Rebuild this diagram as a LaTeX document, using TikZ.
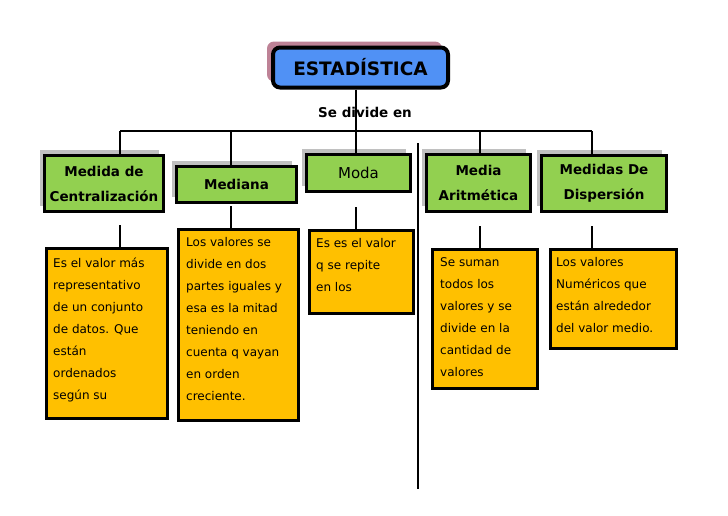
\documentclass[tikz,border=0pt]{standalone}
\usepackage{fontspec}
\setmainfont{DejaVu Sans}
\usetikzlibrary{shadows}

\definecolor{titleblue}{RGB}{80,145,245}
\definecolor{titleshade}{RGB}{190,130,150}
\definecolor{topicgreen}{RGB}{146,208,80}
\definecolor{notegold}{RGB}{255,192,0}
\definecolor{shadegray}{RGB}{192,192,192}

\begin{document}
\begin{tikzpicture}[x=1pt, y=-1pt,
    link/.style={line width=2.2pt},
    topic/.style={draw, line width=3.5pt, fill=topicgreen, align=center, inner sep=0pt,
        font=\bfseries\fontsize{13.5}{25}\selectfont,
        drop shadow={shadow xshift=-5pt, shadow yshift=6pt, fill=shadegray, opacity=1}},
    note/.style={draw, line width=3pt, fill=notegold, anchor=north west, inner sep=0pt},
    notetext/.style={anchor=north west, align=left, inner sep=0pt,
        font=\fontsize{12}{22}\selectfont}]
    \useasboundingbox (0,0) rectangle (728,515);

    % title
    \node[draw, line width=4pt, rounded corners=7pt, fill=titleblue, minimum width=175pt,
        minimum height=40pt, font=\bfseries\fontsize{18.5}{22}\selectfont,
        drop shadow={shadow xshift=-6pt, shadow yshift=6pt, fill=titleshade, opacity=1}]
        (title) at (360.5,67.5) {ESTADÍSTICA};
    \node[font=\bfseries\fontsize{13.5}{16}\selectfont] (divide) at (365,112) {Se divide en};

    % branches
    \node[topic, minimum width=119pt, minimum height=56pt] (cen) at (104,183.5) {Medida de\\Centralización};
    \node[topic, minimum width=120pt, minimum height=36pt] (med) at (236.5,184.5) {Mediana};
    \node[topic, minimum width=104pt, minimum height=37pt, font=\fontsize{15}{25}\selectfont] (mod) at (358.5,173) {Moda};
    \node[topic, minimum width=104pt, minimum height=57pt] (ari) at (478.5,183) {Media\\Aritmética};
    \node[topic, minimum width=125pt, minimum height=56pt] (dis) at (604,183.5) {Medidas De\\Dispersión};

    % notes
    \node[note, minimum width=121pt, minimum height=170pt] (n1) at (44.5,246.5) {};
    \node[note, minimum width=120pt, minimum height=191pt] (n2) at (176.5,227.5) {};
    \node[note, minimum width=104pt, minimum height=83pt] (n3) at (307.5,228.5) {};
    \node[note, minimum width=105pt, minimum height=139pt] (n4) at (430.5,247.5) {};
    \node[note, minimum width=126pt, minimum height=99pt] (n5) at (548.5,247.5) {};

    \node[notetext] (t1) at ([shift={(8.5,11)}]n1.north west)
        {Es el valor más\\representativo\\de un conjunto\\de datos. Que\\están\\ordenados\\según su};
    \node[notetext] (t2) at ([shift={(9.5,10)}]n2.north west)
        {Los valores se\\divide en dos\\partes iguales y\\esa es la mitad\\teniendo en\\cuenta q vayan\\en orden\\creciente.};
    \node[notetext] (t3) at ([shift={(8.5,10)}]n3.north west)
        {Es es el valor\\q se repite\\en los};
    \node[notetext] (t4) at ([shift={(9.5,10)}]n4.north west)
        {Se suman\\todos los\\valores  y se\\divide en la\\cantidad de\\valores};
    \node[notetext] (t5) at ([shift={(7.5,10)}]n5.north west)
        {Los valores\\Numéricos que\\están alrededor\\del valor medio.};

    % connectors
    \coordinate (b1) at (120,131);
    \coordinate (b2) at (231,131);
    \coordinate (b3) at (356,131);
    \coordinate (b4) at (480,131);
    \coordinate (b5) at (592,131);
    \draw[link] (b3 |- title.south) -- (b3);
    \draw[link] (b1) -- (b5);
    \foreach \b/\t/\n in {b1/cen/n1, b2/med/n2, b3/mod/n3, b4/ari/n4, b5/dis/n5} {
        \draw[link] (\b) -- (\b |- \t.north);
        \draw[link] (\b |- \n.north) -- ++(0,-22);
    }

    \coordinate (sepTop) at (418,143);
    \coordinate (sepBot) at (418,489);
    \draw[line width=2.5pt] (sepTop) -- (sepBot);
\end{tikzpicture}
\end{document}
